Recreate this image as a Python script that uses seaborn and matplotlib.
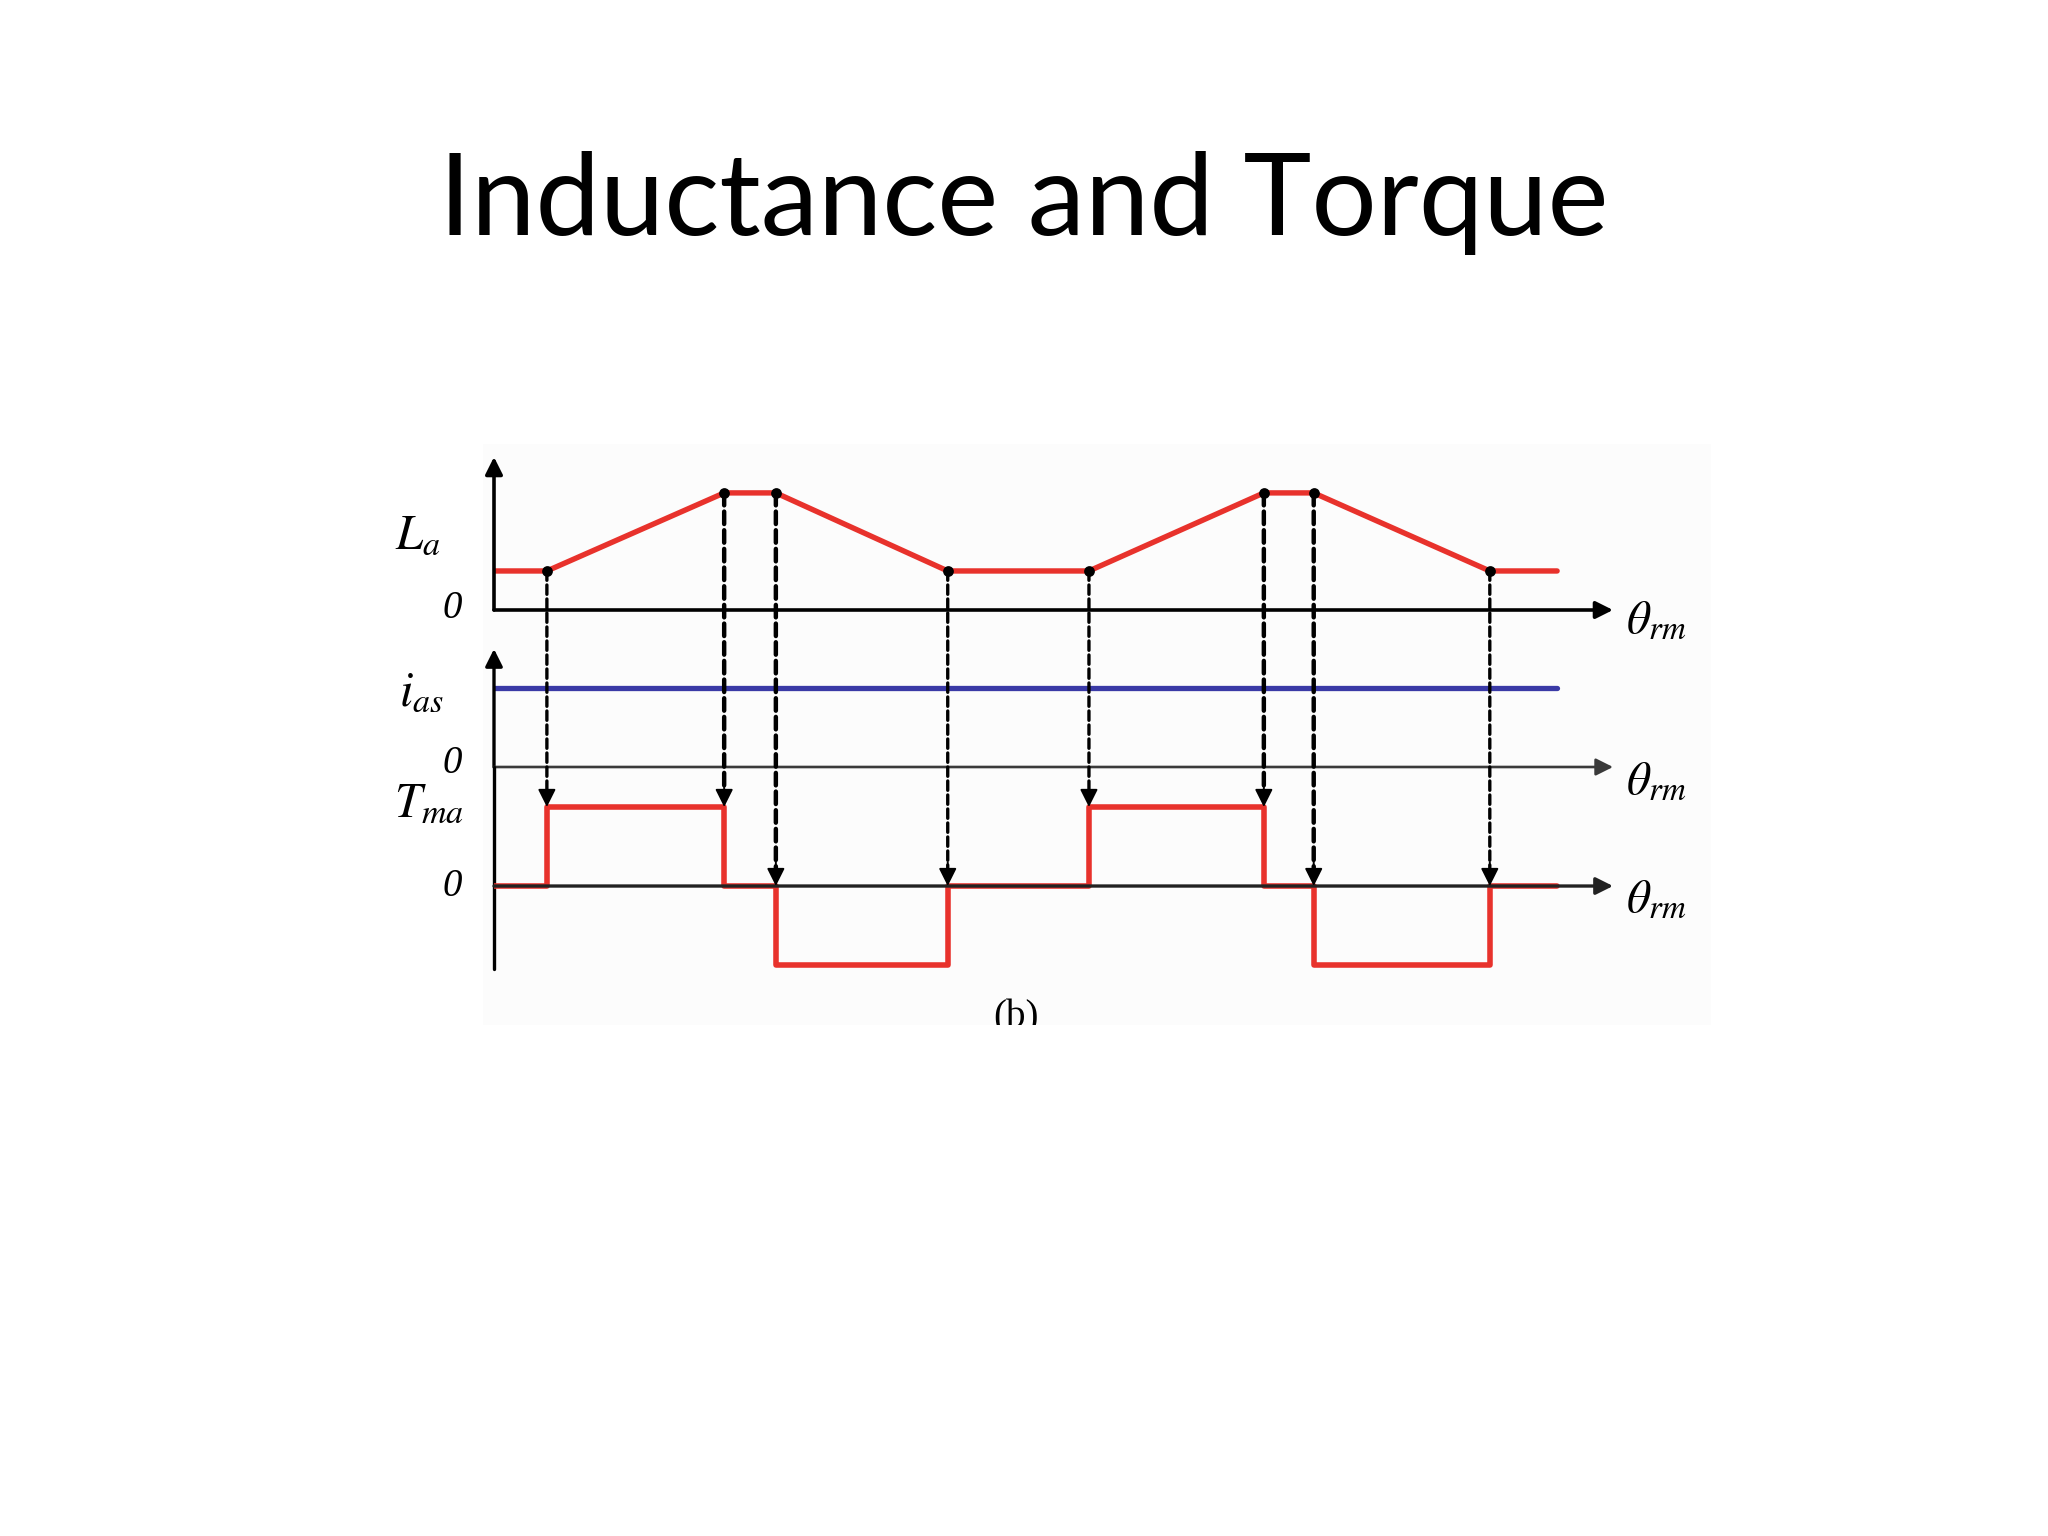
import numpy as np
import pandas as pd
import seaborn as sns
import matplotlib.pyplot as plt
from matplotlib.patches import ConnectionPatch, Rectangle
from matplotlib.transforms import Bbox, TransformedBbox

# rotor position breakpoints (mech. deg) and waveforms
theta = [0, 8.8, 38.3, 46.9, 75.5, 99.0, 128.1, 136.4, 165.7, 176.9]
L_a = [1, 1, 3, 3, 1, 1, 3, 3, 1, 1]
T_ma = [0, 1, 0, -1, 0, 1, 0, -1, 0, 0]
i_as_level = 1.0
theta_max = 186.2

titulo = "Inductance and Torque"

sns.set_theme(style="white")
plt.rcParams["font.family"] = ["Lato", "DejaVu Sans"]
plt.rcParams["mathtext.fontset"] = "stix"
plt.rcParams["text.color"] = "black"

ROJO = "#e8322c"
AZUL = "#3a3aa6"

fig = plt.figure(figsize=(20.48, 15.36), dpi=100)
W, H = 2048, 1536


def caja(left, top, right, bottom):
    return [left / W, 1 - bottom / H, (right - left) / W, (bottom - top) / H]


# faint background of the pasted figure
fig.add_artist(Rectangle((483 / W, 1 - 1025 / H), (1711 - 483) / W, (1025 - 444) / H,
                         transform=fig.transFigure, fc="#fcfcfc", ec="none", zorder=0))

ax1 = fig.add_axes(caja(494, 457, 1613, 610))
ax2 = fig.add_axes(caja(494, 649, 1613, 767))
ax3 = fig.add_axes(caja(494, 767, 1613, 969))
ax1.set_ylim(0, 3.92)
ax2.set_ylim(0, 1.49)
ax3.set_ylim(-1.05, 1.506)
for ax in (ax1, ax2, ax3):
    ax.set_xlim(0, theta_max)
    ax.axis("off")
    ax.patch.set_alpha(0)

flecha = dict(arrowstyle="-|>", color="black", mutation_scale=26, shrinkA=0, shrinkB=0)

# axes with arrows
ax1.annotate("", xy=(0, 1), xytext=(0, 0), xycoords="axes fraction",
             arrowprops=dict(flecha, lw=2.6))
ax1.annotate("", xy=(1, 0), xytext=(0, 0), xycoords="axes fraction",
             arrowprops=dict(flecha, lw=2.6))
ax2.annotate("", xy=(0, 1), xytext=(0, 0), xycoords="axes fraction",
             arrowprops=dict(flecha, lw=2.4))
ax2.annotate("", xy=(1, 0), xytext=(0, 0), xycoords="axes fraction",
             arrowprops=dict(flecha, lw=1.9, color="#3a3a3a"))
ax3.plot([0, 0], [0, 1], transform=ax3.transAxes, color="black", lw=2.4, clip_on=False)
ax3.annotate("", xy=(1, 1.05 / 2.556), xytext=(0, 1.05 / 2.556), xycoords="axes fraction",
             arrowprops=dict(flecha, lw=2.4, color="#222222"))

df = pd.DataFrame({"theta": theta, "L_a": L_a, "T_ma": T_ma})
sns.lineplot(data=df, x="theta", y="L_a", ax=ax1, color=ROJO, lw=3.9,
             estimator=None, sort=False)
sns.lineplot(x=[theta[0], theta[-1]], y=[i_as_level, i_as_level], ax=ax2,
             color=AZUL, lw=3.8, estimator=None)
sns.lineplot(data=df, x="theta", y="T_ma", ax=ax3, color=ROJO, lw=4.0,
             estimator=None, sort=False, drawstyle="steps-post")
for ax in (ax1, ax2, ax3):
    ax.set_xlabel("")
    ax.set_ylabel("")

# switching points and dashed projections onto the torque
sw = range(1, len(theta) - 1)
sns.scatterplot(x=[theta[i] for i in sw], y=[L_a[i] for i in sw], ax=ax1,
                color="black", s=60, zorder=5, linewidth=0)
for i in sw:
    fin = max(T_ma[i - 1], T_ma[i])
    grueso = 3.2 if L_a[i] == max(L_a) else 2.4
    con = ConnectionPatch(xyA=(theta[i], L_a[i]), coordsA=ax1.transData,
                          xyB=(theta[i], fin + 0.12), coordsB=ax3.transData,
                          color="black", lw=grueso, linestyle=(0, (2.8, 1.4)))
    fig.add_artist(con)
    ax3.annotate("", xy=(theta[i], fin), xytext=(theta[i], fin + 0.3),
                 arrowprops=dict(arrowstyle="-|>", color="black", lw=1.4,
                                 mutation_scale=27, shrinkA=0, shrinkB=0))

# labels
serif = ["Liberation Serif", "DejaVu Serif"]
yx = lambda ax: ax.get_yaxis_transform()
ax1.text(-0.068, 1.92, r"$L_a$", transform=yx(ax1), fontsize=35, ha="center", va="center")
ax2.text(-0.065, 0.95, r"$i_{as}$", transform=yx(ax2), fontsize=35, ha="center", va="center")
ax3.text(-0.058, 1.05, r"$T_{ma}$", transform=yx(ax3), fontsize=35, ha="center", va="center")
for ax, y0 in ((ax1, 0.05), (ax2, 0.05), (ax3, 0.0)):
    ax.text(-0.037, y0, "0", transform=yx(ax), fontsize=28, family=serif,
            style="italic", ha="center", va="center")
for ax, y0 in ((ax1, -0.26), (ax2, -0.18), (ax3, -0.16)):
    ax.text(1.012, y0, r"$\theta_{rm}$", transform=yx(ax), fontsize=34,
            ha="left", va="center", clip_on=False)

cap = fig.text(1016 / W, 1 - 1018 / H, "(b)", fontsize=28, family=serif,
               ha="center", va="center")
cap.set_clip_box(TransformedBbox(Bbox([[0, 1 - 1025 / H], [1, 1]]), fig.transFigure))
cap.set_clip_on(True)

fig.text(0.5, 1 - 235 / H, titulo, fontsize=83, ha="center", va="baseline",
         color="black")

fig.savefig("out.png", dpi=100)
